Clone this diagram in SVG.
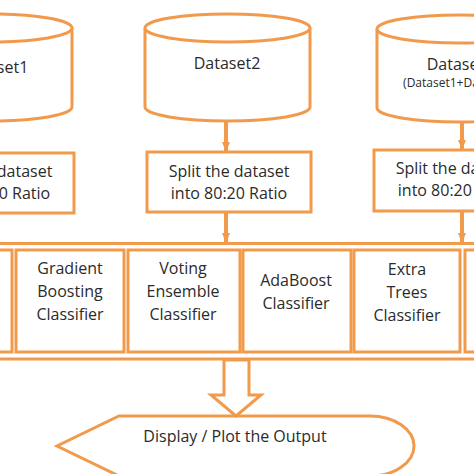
<svg xmlns="http://www.w3.org/2000/svg" width="474" height="474" viewBox="0 0 474 474">
<style>
.s{fill:#fff;stroke:#F19A4C;stroke-width:3}
.t{font-family:"Open Sans","Noto Sans",sans-serif;font-size:16px;fill:#2b2b2b;text-anchor:middle}
.ts{font-family:"Open Sans","Noto Sans",sans-serif;font-size:12px;fill:#2b2b2b;text-anchor:middle}
.c{stroke:#F19A4C;stroke-width:4;fill:none}
</style>
<defs>
<marker id="ah" viewBox="0 0 10 8" refX="10" refY="4" markerWidth="2.6" markerHeight="2.2" orient="auto" markerUnits="strokeWidth">
<path d="M0,0 L10,4 L0,8 Z" fill="#F19A4C"/>
</marker>
</defs>
<rect width="474" height="474" fill="#fff"/>

<g id="dataset1">
<path class="s" d="M-92,28 L-92,107 A82,14 0 0 0 72,107 L72,28"/>
<ellipse class="s" cx="-10" cy="28" rx="82" ry="14"/>
<text class="t" x="-5" y="73">Dataset1</text>
</g>
<g id="dataset2">
<path class="s" d="M145,28 L145,107 A82.5,14 0 0 0 310,107 L310,28"/>
<ellipse class="s" cx="227.5" cy="28" rx="82.5" ry="14"/>
<text class="t" x="227" y="69">Dataset2</text>
</g>
<g id="dataset3">
<path class="s" d="M377,29 L377,108 A83,14 0 0 0 543,108 L543,29"/>
<ellipse class="s" cx="460" cy="29" rx="83" ry="14"/>
<text class="t" x="460" y="70">Dataset3</text>
<text class="ts" x="460" y="87">(Dataset1+Dataset2)</text>
</g>

<g id="split1">
<rect class="s" x="-90" y="153" width="164" height="60"/>
<text class="t" x="-8" y="177">Split the dataset</text>
<text class="t" x="-8" y="199">into 80:20 Ratio</text>
</g>
<g id="split2">
<rect class="s" x="147" y="152" width="164" height="60"/>
<text class="t" x="229" y="177">Split the dataset</text>
<text class="t" x="229" y="199">into 80:20 Ratio</text>
</g>
<g id="split3">
<rect class="s" x="374" y="150" width="164" height="61"/>
<text class="t" x="456" y="174">Split the dataset</text>
<text class="t" x="456" y="196">into 80:20 Ratio</text>
</g>

<g id="classifiers">
<rect class="s" x="-100" y="243.5" width="674" height="115.5"/>
</g>
<g id="clf0"><rect class="s" x="-96" y="250" width="108" height="102"/></g>
<g id="gradient-boosting">
<rect class="s" x="16" y="250" width="108" height="102"/>
<text class="t" x="70" y="274">Gradient</text>
<text class="t" x="70" y="297">Boosting</text>
<text class="t" x="70" y="320">Classifier</text>
</g>
<g id="voting-ensemble">
<rect class="s" x="128" y="250" width="112" height="102"/>
<text class="t" x="183" y="274">Voting</text>
<text class="t" x="183" y="297">Ensemble</text>
<text class="t" x="183" y="320">Classifier</text>
</g>
<g id="adaboost">
<rect class="s" x="243" y="250" width="108" height="102"/>
<text class="t" x="296" y="286">AdaBoost</text>
<text class="t" x="296" y="309">Classifier</text>
</g>
<g id="extra-trees">
<rect class="s" x="354" y="250" width="106" height="102"/>
<text class="t" x="407" y="275">Extra</text>
<text class="t" x="407" y="298">Trees</text>
<text class="t" x="407" y="321">Classifier</text>
</g>
<g id="clf5"><rect class="s" x="465" y="250" width="110" height="102"/></g>

<g id="display">
<path class="s" d="M119,416 L370,416 A44,30 0 0 1 370,476 L119,476 L57,446 Z"/>
<text class="t" x="235" y="442">Display / Plot the Output</text>
</g>

<g id="connectors">
<line class="c" x1="226" y1="121" x2="226" y2="152" marker-end="url(#ah)"/>
<line class="c" x1="226" y1="212" x2="226" y2="243" marker-end="url(#ah)"/>
<line class="c" x1="462" y1="122" x2="462" y2="150" marker-end="url(#ah)"/>
<line class="c" x1="462" y1="211" x2="462" y2="243" marker-end="url(#ah)"/>
<polygon class="s" points="224,360 224,395 211,395 236,416 261,395 249,395 249,360"/>
</g>
</svg>
